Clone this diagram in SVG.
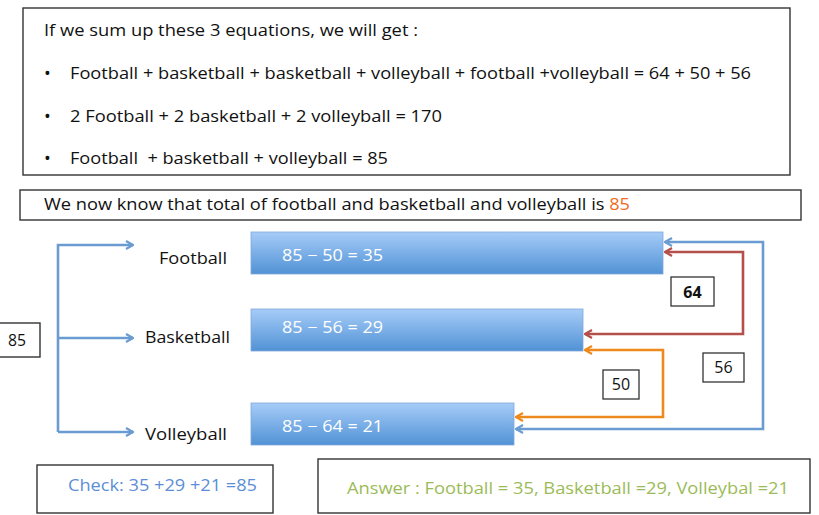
<svg xmlns="http://www.w3.org/2000/svg" width="819" height="515" viewBox="0 0 819 515">
<style>
text{font-family:"Open Sans","Liberation Sans",sans-serif;font-size:16px;fill:#111}
.box{fill:#fff;stroke:#333;stroke-width:1.4}
.val{fill:#fff;font-size:16px}
.lbl{font-size:16px;fill:#111}
.num{fill:#fff;stroke:#333;stroke-width:1.3}
.bul{font-size:18px}
.bl{fill:none;stroke:#6A9BD1;stroke-width:2.6}
.rd{fill:none;stroke:#B4504C;stroke-width:2.6}
.or{fill:none;stroke:#EE8A1C;stroke-width:2.6}
</style>
<defs>
<linearGradient id="g" x1="0" y1="0" x2="0" y2="1">
<stop offset="0" stop-color="#A6CCF8"/>
<stop offset="1" stop-color="#5192D5"/>
</linearGradient>
<marker id="mb" viewBox="0 0 10 10" refX="9" refY="5" markerWidth="10" markerHeight="10" markerUnits="userSpaceOnUse" orient="auto-start-reverse"><path d="M2,1 L9,5 L2,9" fill="none" stroke="#6A9BD1" stroke-width="2.2"/></marker>
<marker id="mr" viewBox="0 0 10 10" refX="9" refY="5" markerWidth="10" markerHeight="10" markerUnits="userSpaceOnUse" orient="auto-start-reverse"><path d="M2,1 L9,5 L2,9" fill="none" stroke="#B4504C" stroke-width="2.2"/></marker>
<marker id="mo" viewBox="0 0 10 10" refX="9" refY="5" markerWidth="10" markerHeight="10" markerUnits="userSpaceOnUse" orient="auto-start-reverse"><path d="M2,1 L9,5 L2,9" fill="none" stroke="#EE8A1C" stroke-width="2.2"/></marker>
</defs>
<rect width="819" height="515" fill="#fff"/>

<g id="summary">
<rect class="box" x="23" y="8" width="767" height="167"/>
<text x="44" y="36" textLength="374" lengthAdjust="spacingAndGlyphs">If we sum up these 3 equations, we will get :</text>
<text class="bul" x="44" y="80">•</text>
<text x="70" y="79" textLength="681" lengthAdjust="spacingAndGlyphs">Football + basketball + basketball + volleyball + football +volleyball = 64 + 50 + 56</text>
<text class="bul" x="44" y="123">•</text>
<text x="70" y="122" textLength="372" lengthAdjust="spacingAndGlyphs">2 Football + 2 basketball + 2 volleyball = 170</text>
<text class="bul" x="44" y="165">•</text>
<text x="70" y="164" textLength="318" lengthAdjust="spacingAndGlyphs" xml:space="preserve">Football  + basketball + volleyball = 85</text>
</g>

<g id="total">
<rect class="box" x="20" y="190" width="781" height="30"/>
<text x="44" y="210" textLength="586" lengthAdjust="spacingAndGlyphs">We now know that total of football and basketball and volleyball is <tspan fill="#F26B21">85</tspan></text>
</g>

<g id="start85">
<rect class="box" x="-2" y="323" width="42" height="34"/>
<text x="8" y="346" font-size="17" textLength="18" lengthAdjust="spacingAndGlyphs">85</text>
</g>

<g id="connectors">
<path class="bl" d="M58,432 V245 H133" marker-end="url(#mb)"/>
<path class="bl" d="M58,338 H133" marker-end="url(#mb)"/>
<path class="bl" d="M58,432 H133" marker-end="url(#mb)"/>
<path class="bl" d="M665,242 H763 V429 H516" marker-start="url(#mb)" marker-end="url(#mb)"/>
<path class="rd" d="M665,252 H743 V334 H585" marker-start="url(#mr)" marker-end="url(#mr)"/>
<path class="or" d="M585,350 H663 V417 H516" marker-start="url(#mo)" marker-end="url(#mo)"/>
</g>

<g id="football">
<text class="lbl" x="159" y="264" textLength="68" lengthAdjust="spacingAndGlyphs">Football</text>
<rect x="251" y="232" width="412" height="42" fill="url(#g)" stroke="#7FA9DA" stroke-width="0.8"/>
<text class="val" x="282" y="261" textLength="101" lengthAdjust="spacingAndGlyphs">85 − 50 = 35</text>
</g>

<g id="basketball">
<text class="lbl" x="145" y="343" textLength="85" lengthAdjust="spacingAndGlyphs">Basketball</text>
<rect x="251" y="309" width="332" height="42" fill="url(#g)" stroke="#7FA9DA" stroke-width="0.8"/>
<text class="val" x="282" y="333" textLength="101" lengthAdjust="spacingAndGlyphs">85 − 56 = 29</text>
</g>

<g id="volleyball">
<text class="lbl" x="145" y="440" textLength="82" lengthAdjust="spacingAndGlyphs">Volleyball</text>
<rect x="251" y="403" width="263" height="42" fill="url(#g)" stroke="#7FA9DA" stroke-width="0.8"/>
<text class="val" x="282" y="432" textLength="101" lengthAdjust="spacingAndGlyphs">85 − 64 = 21</text>
</g>

<g id="label64">
<rect class="num" x="671" y="277" width="43" height="29"/>
<text x="692.5" y="298" text-anchor="middle" font-weight="bold" font-size="17">64</text>
</g>
<g id="label56">
<rect class="num" x="703" y="353" width="41" height="29"/>
<text x="723.5" y="373" text-anchor="middle" font-size="18">56</text>
</g>
<g id="label50">
<rect class="num" x="603" y="370" width="36" height="29"/>
<text x="621" y="390" text-anchor="middle" font-size="18">50</text>
</g>

<g id="check">
<rect class="box" x="37" y="465" width="236" height="48"/>
<text x="68" y="491" style="fill:#5B8ED6" textLength="189" lengthAdjust="spacingAndGlyphs">Check: 35 +29 +21 =85</text>
</g>

<g id="answer">
<rect class="box" x="318" y="459" width="492" height="54"/>
<text x="347" y="494" style="fill:#9BBB59" textLength="442" lengthAdjust="spacingAndGlyphs">Answer : Football = 35, Basketball =29, Volleybal =21</text>
</g>
</svg>
